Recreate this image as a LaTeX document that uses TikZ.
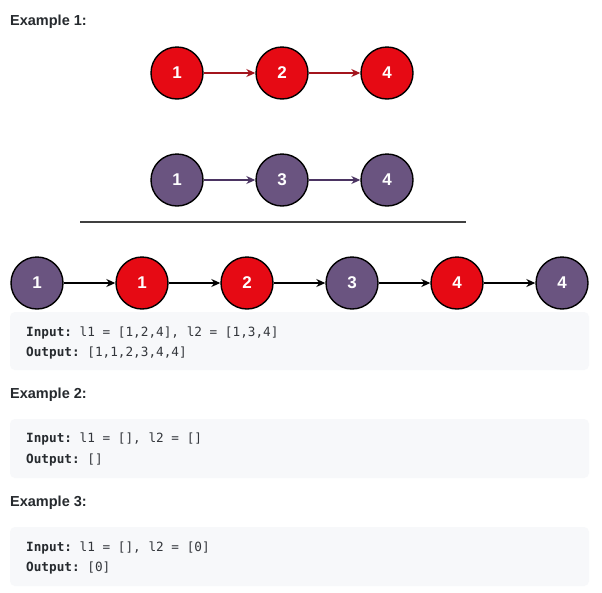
\documentclass[tikz,border=0pt]{standalone}
\usepackage{fontspec}
\setmainfont{Liberation Sans}
\setmonofont{DejaVu Sans Mono}
\usetikzlibrary{arrows.meta}
\definecolor{nred}{HTML}{E60A14}
\definecolor{npurp}{HTML}{6A5480}
\definecolor{ared}{HTML}{A3141C}
\definecolor{apurp}{HTML}{4B3462}
\definecolor{headc}{HTML}{262A2E}
\definecolor{codebg}{HTML}{F7F8FA}
\definecolor{codec}{HTML}{33363B}
\tikzset{
  lnode/.style={circle,draw=black,line width=1.4pt,minimum size=52pt,inner sep=0pt,
    text=white,font=\fontsize{17}{17}\selectfont\bfseries},
  rednode/.style={lnode,fill=nred},
  purpnode/.style={lnode,fill=npurp},
  link/.style={-{Stealth[length=9pt,width=8pt]},line width=1.2pt},
  head/.style={anchor=west,inner sep=0pt,text=headc,font=\fontsize{14.5}{15}\selectfont\bfseries},
  codebox/.style={fill=codebg,rounded corners=5pt,draw=none},
  codeline/.style={anchor=base west,inner sep=0pt,text=codec,font=\fontsize{12.7}{13}\ttfamily}
}
\begin{document}
\begin{tikzpicture}[x=1pt,y=-1pt]
\useasboundingbox[fill=white] (0,0) rectangle (602,592);
% Example 1 heading
\node[head] (h1) at (10,22) {Example 1:};
% list 1
\node[rednode] (a1) at (177,73) {1};
\node[rednode] (a2) at (282,73) {2};
\node[rednode] (a3) at (387,73) {4};
\draw[link,ared] (a1) -- (a2);
\draw[link,ared] (a2) -- (a3);
% list 2
\node[purpnode] (b1) at (177,180) {1};
\node[purpnode] (b2) at (282,180) {3};
\node[purpnode] (b3) at (387,180) {4};
\draw[link,apurp] (b1) -- (b2);
\draw[link,apurp] (b2) -- (b3);
% separator
\coordinate (s1) at (80,222);
\coordinate (s2) at (466,222);
\draw[line width=2pt,black!75] (s1) -- (s2);
% merged list
\node[purpnode] (c1) at (37,283) {1};
\node[rednode] (c2) at (142,283) {1};
\node[rednode] (c3) at (247,283) {2};
\node[purpnode] (c4) at (352,283) {3};
\node[rednode] (c5) at (457,283) {4};
\node[purpnode] (c6) at (562,283) {4};
\draw[link,black] (c1) -- (c2);
\draw[link,black] (c2) -- (c3);
\draw[link,black] (c3) -- (c4);
\draw[link,black] (c4) -- (c5);
\draw[link,black] (c5) -- (c6);
% code box 1
\path[codebox] (10,312) rectangle (589,370);
\node[codeline] (i1) at (26,336) {\textbf{\color{headc}Input:} l1 = [1,2,4], l2 = [1,3,4]};
\node[codeline] (o1) at (26,356) {\textbf{\color{headc}Output:} [1,1,2,3,4,4]};
% Example 2
\node[head] (h2) at (10,395) {Example 2:};
\path[codebox] (10,419) rectangle (589,478);
\node[codeline] (i2) at (26,442) {\textbf{\color{headc}Input:} l1 = [], l2 = []};
\node[codeline] (o2) at (26,463) {\textbf{\color{headc}Output:} []};
% Example 3
\node[head] (h3) at (10,503) {Example 3:};
\path[codebox] (10,527) rectangle (589,586);
\node[codeline] (i3) at (26,551) {\textbf{\color{headc}Input:} l1 = [], l2 = [0]};
\node[codeline] (o3) at (26,571) {\textbf{\color{headc}Output:} [0]};
\end{tikzpicture}
\end{document}
